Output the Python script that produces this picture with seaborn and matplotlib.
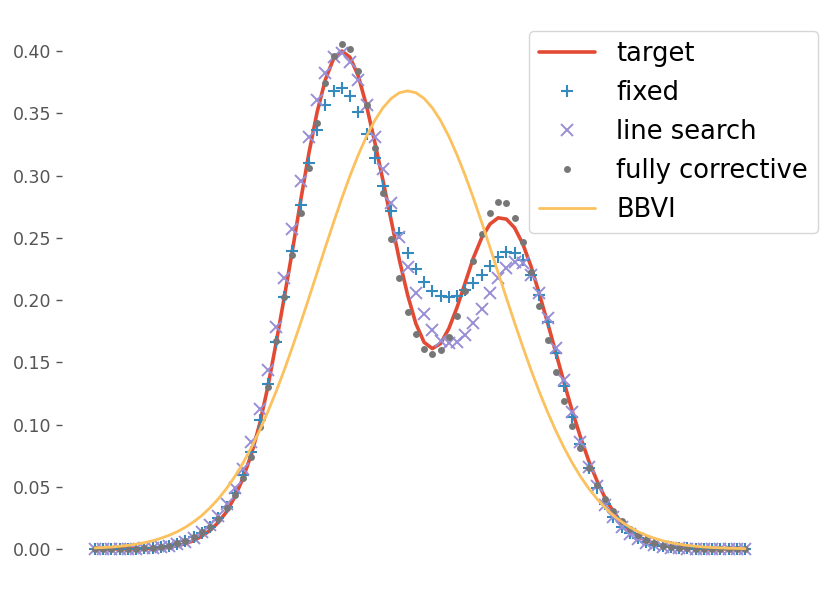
import numpy as np
import pandas as pd
import matplotlib
matplotlib.use("Agg")
import matplotlib.pyplot as plt
import seaborn as sns

# grid positions (no x tick labels in the reference)
grid = list(range(80))

target = [0.0, 0.0, 0.0, 0.0001, 0.0001, 0.0002, 0.0003, 0.0005, 0.0009, 0.0015,
          0.0026, 0.0043, 0.0068, 0.0105, 0.0150, 0.0215, 0.030, 0.042, 0.057, 0.076,
          0.100, 0.130, 0.165, 0.202, 0.240, 0.280, 0.318, 0.351, 0.377, 0.394,
          0.400, 0.395, 0.380, 0.356, 0.327, 0.296, 0.264, 0.232, 0.204, 0.181,
          0.166, 0.161, 0.165, 0.177, 0.194, 0.214, 0.234, 0.250, 0.261, 0.266,
          0.265, 0.258, 0.245, 0.227, 0.205, 0.182, 0.158, 0.134, 0.111, 0.090,
          0.071, 0.055, 0.041, 0.030, 0.021, 0.015, 0.010, 0.0068, 0.0045, 0.0029,
          0.0018, 0.0011, 0.0007, 0.0004, 0.0002, 0.0001, 0.0001, 0.0, 0.0, 0.0]

fixed = [0.0, 0.0, 0.0001, 0.0001, 0.0002, 0.0003, 0.0005, 0.0008, 0.0014, 0.0025,
         0.0042, 0.0064, 0.0095, 0.013, 0.018, 0.025, 0.034, 0.045, 0.0594, 0.0782,
         0.1036, 0.1323, 0.166, 0.2027, 0.2394, 0.2763, 0.310, 0.3365, 0.3566, 0.3679,
         0.370, 0.3639, 0.3512, 0.3333, 0.3138, 0.2916, 0.2715, 0.2536, 0.2375, 0.2249,
         0.2147, 0.2075, 0.2035, 0.2027, 0.2035, 0.208, 0.2134, 0.220, 0.2276, 0.2348,
         0.2383, 0.238, 0.2321, 0.220, 0.204, 0.1826, 0.1572, 0.1309, 0.1063, 0.0843,
         0.0648, 0.0488, 0.036, 0.026, 0.018, 0.0125, 0.0085, 0.0056, 0.0036, 0.0022,
         0.0013, 0.0008, 0.0005, 0.0003, 0.0002, 0.0001, 0.0001, 0.0, 0.0, 0.0]

line_search = [0.0, 0.0, 0.0001, 0.0001, 0.0002, 0.0003, 0.0005, 0.0008, 0.0013, 0.0022,
               0.0038, 0.006, 0.0092, 0.0135, 0.0192, 0.0265, 0.0362, 0.0487, 0.0640, 0.0862,
               0.1122, 0.1438, 0.1786, 0.2174, 0.2568, 0.2958, 0.331, 0.3606, 0.3826, 0.395,
               0.3987, 0.391, 0.377, 0.3566, 0.331, 0.305, 0.2777, 0.2509, 0.2268, 0.2059,
               0.1888, 0.1759, 0.1673, 0.1652, 0.1665, 0.1719, 0.1813, 0.1925, 0.2054, 0.2174,
               0.226, 0.2308, 0.2295, 0.220, 0.2054, 0.1853, 0.1612, 0.1357, 0.1103, 0.0862,
               0.0661, 0.0509, 0.0353, 0.026, 0.0179, 0.012, 0.008, 0.005, 0.003, 0.0018,
               0.001, 0.0006, 0.0004, 0.0002, 0.0001, 0.0001, 0.0, 0.0, 0.0, 0.0]

fully_corrective = [0.0, 0.0, 0.0001, 0.0001, 0.0002, 0.0003, 0.0005, 0.0008, 0.0014, 0.0027,
                    0.0046, 0.0067, 0.0099, 0.0134, 0.0179, 0.0241, 0.0330, 0.0430, 0.0568, 0.0742,
                    0.0980, 0.130, 0.167, 0.2027, 0.236, 0.2696, 0.3058, 0.342, 0.374, 0.396,
                    0.406, 0.402, 0.384, 0.357, 0.322, 0.2857, 0.249, 0.2174, 0.1906, 0.1724,
                    0.1606, 0.1566, 0.1598, 0.170, 0.187, 0.2075, 0.2313, 0.253, 0.270, 0.279,
                    0.2777, 0.266, 0.2468, 0.2222, 0.1952, 0.1679, 0.1424, 0.1191, 0.0988, 0.0809,
                    0.0653, 0.0514, 0.0399, 0.0305, 0.0227, 0.016, 0.0112, 0.0072, 0.0046, 0.0027,
                    0.0016, 0.0009, 0.0005, 0.0003, 0.0002, 0.0001, 0.0001, 0.0, 0.0, 0.0]

bbvi = [0.0009, 0.0012, 0.0016, 0.0022, 0.0029, 0.0039, 0.0051, 0.0066, 0.0086, 0.0110,
        0.0139, 0.0175, 0.0219, 0.0270, 0.0332, 0.0404, 0.0487, 0.0583, 0.0692, 0.0815,
        0.0951, 0.1101, 0.1263, 0.1437, 0.1623, 0.1817, 0.2017, 0.2220, 0.2424, 0.2624,
        0.2817, 0.2999, 0.3166, 0.3315, 0.3442, 0.3544, 0.3619, 0.3665, 0.3680, 0.3665,
        0.3619, 0.3544, 0.3442, 0.3315, 0.3166, 0.2999, 0.2817, 0.2624, 0.2424, 0.2220,
        0.2017, 0.1817, 0.1623, 0.1437, 0.1263, 0.1101, 0.0951, 0.0815, 0.0692, 0.0583,
        0.0487, 0.0404, 0.0332, 0.0270, 0.0219, 0.0175, 0.0139, 0.0110, 0.0086, 0.0066,
        0.0051, 0.0039, 0.0029, 0.0022, 0.0016, 0.0012, 0.0009, 0.0006, 0.0005, 0.0003]

yticks = [0.00, 0.05, 0.10, 0.15, 0.20, 0.25, 0.30, 0.35, 0.40]

df = pd.DataFrame({"x": grid, "target": target, "fixed": fixed,
                   "line search": line_search, "fully corrective": fully_corrective,
                   "BBVI": bbvi})

sns.set_theme(style="ticks")
plt.rcParams["font.family"] = ["DejaVu Sans"]

fig = plt.figure(figsize=(8.31, 5.94), dpi=100)
ax = fig.add_axes([0.0752, 0.0332, 0.8604, 0.936])

c_red, c_blue, c_purple, c_gray, c_yellow = "#E24A33", "#348ABD", "#988ED5", "#777777", "#FBC15E"

sns.lineplot(data=df, x="x", y="target", ax=ax, color=c_red, lw=2.6, label="target")
sns.lineplot(data=df, x="x", y="fixed", ax=ax, color=c_blue, linestyle="", marker="+",
             markersize=9, markeredgewidth=1.5, markeredgecolor=c_blue, markerfacecolor=c_blue,
             label="fixed")
sns.lineplot(data=df, x="x", y="line search", ax=ax, color=c_purple, linestyle="", marker="x",
             markersize=8, markeredgewidth=1.4, markeredgecolor=c_purple, markerfacecolor=c_purple,
             label="line search")
sns.lineplot(data=df, x="x", y="fully corrective", ax=ax, color=c_gray, linestyle="", marker="o",
             markersize=5, markeredgewidth=0, markerfacecolor=c_gray, markeredgecolor=c_gray,
             label="fully corrective")
sns.lineplot(data=df, x="x", y="BBVI", ax=ax, color=c_yellow, lw=2.0, label="BBVI")

n = len(grid)
ax.set_xlim(-0.05 * (n - 1), (n - 1) * 1.05)
ax.set_ylim(-0.0203, 0.4263)
ax.set_xticks([])
ax.set_yticks(yticks)
ax.set_yticklabels([f"{v:.2f}" for v in yticks])
ax.set_xlabel("")
ax.set_ylabel("")
for s in ax.spines.values():
    s.set_visible(False)
ax.tick_params(axis="y", colors="#555555", labelsize=12.5, length=4, width=1, direction="out", pad=4)

leg = ax.legend(loc="upper right", bbox_to_anchor=(0.9844, 0.9478), bbox_transform=fig.transFigure,
                borderaxespad=0, fontsize=18.5, frameon=True, handlelength=2.2,
                labelspacing=0.5, numpoints=1)
leg.get_frame().set_edgecolor("#cccccc")
for t in leg.get_texts():
    t.set_color("black")

fig.savefig("out.png", dpi=100)
